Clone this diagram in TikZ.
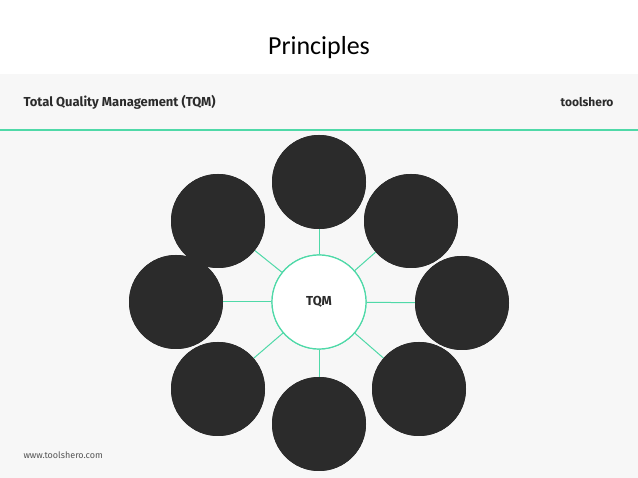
\documentclass[tikz,border=0pt]{standalone}
\usepackage{fontspec}
\setmainfont{Fira Sans}
\newfontfamily\titlefont{Carlito}
\definecolor{panel}{HTML}{F7F7F7}
\definecolor{tqmgreen}{HTML}{4FD9A8}
\definecolor{dark}{HTML}{2B2B2B}
\begin{document}
\begin{tikzpicture}[x=1pt,y=-1pt,
  outer/.style={circle,fill=dark,minimum size=94pt,inner sep=0pt,text=white,font=\fontsize{8}{10}\selectfont,align=center},
  conn/.style={draw=tqmgreen,line width=1pt}]
\useasboundingbox (0,0) rectangle (638,478);
\fill[white] (0,0) rectangle (638,478);
\fill[panel] (0,74) rectangle (638,478);
\node (title) at (319,48) {\titlefont\fontsize{26}{30}\selectfont Principles};
\node[anchor=west,font=\fontsize{13}{15}\selectfont\bfseries,text=dark] (hdr) at (20,102) {Total Quality Management (TQM)};
\node[anchor=east,font=\fontsize{12}{14}\selectfont\bfseries,text=dark] (logo) at (617,102) {toolshero};
\draw[tqmgreen,line width=1.2pt] (0,130) -- (638,130);
\node[anchor=west,font=\fontsize{9}{11}\selectfont,text=dark!80] (url) at (20,455) {www.toolshero.com};
\node[circle,draw=tqmgreen,line width=1.2pt,fill=white,minimum size=94pt,font=\fontsize{13}{15}\selectfont\bfseries,text=dark] (c) at (319,302) {TQM};
\node[outer] (n1) at (319,182) {Focus on\\customer};
\node[outer] (n2) at (411,221) {Employee\\involvement};
\node[outer] (n3) at (462,303) {Process\\centered};
\node[outer] (n4) at (419,389) {Integrated\\system};
\node[outer] (n5) at (319,424) {Strategic and\\systematic\\approach};
\node[outer] (n6) at (218,389) {Decision-making\\based on facts};
\node[outer] (n7) at (176,302) {Communication};
\node[outer] (n8) at (218,221) {Continuous\\improvement};
\foreach \n in {n1,n2,n3,n4,n5,n6,n7,n8}{
  \draw[conn] (c) -- (\n);
  \node[outer] at (\n) {};
}
\node[circle,draw=tqmgreen,line width=1.2pt,fill=white,minimum size=94pt,font=\fontsize{13}{15}\selectfont\bfseries,text=dark] at (319,302) {TQM};
\end{tikzpicture}
\end{document}
